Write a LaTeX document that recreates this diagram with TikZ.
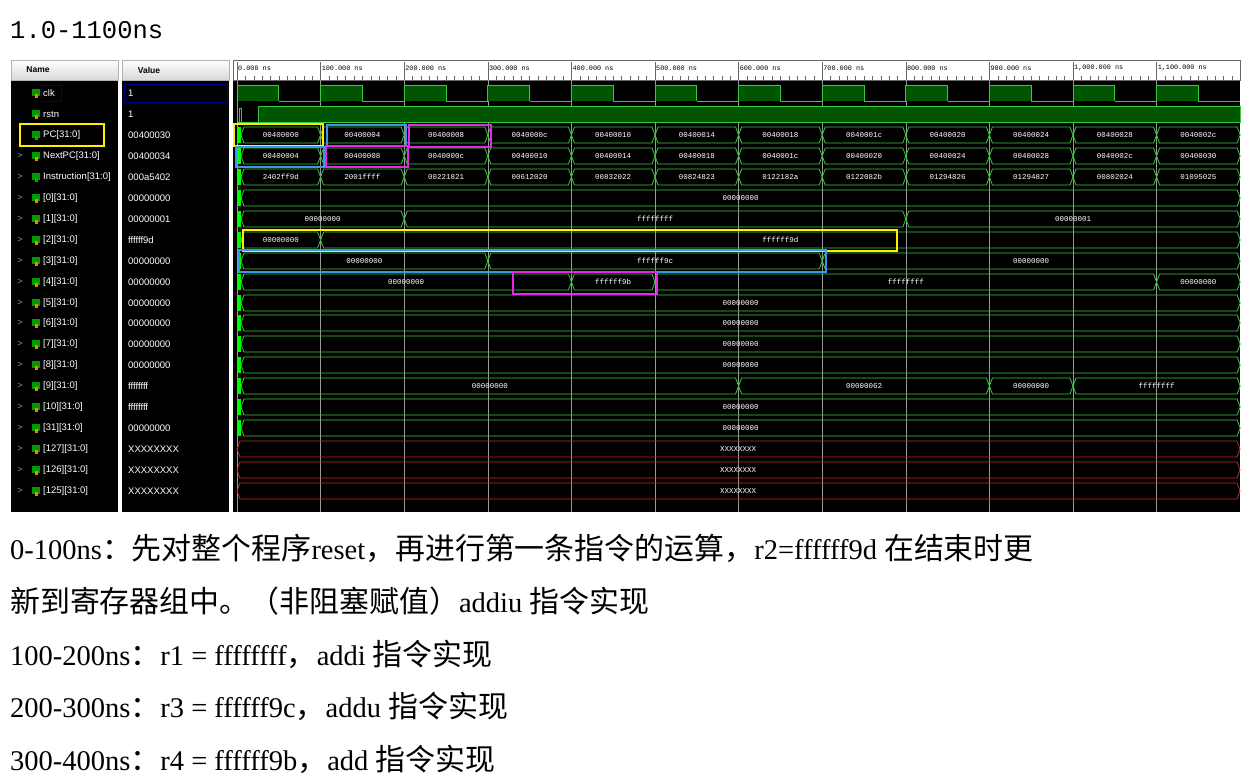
\documentclass[tikz,border=0pt]{standalone}
\usepackage{fontspec}
\setmainfont{Liberation Serif}
\newfontfamily\cjk[Scale=1.05]{Noto Sans CJK SC}
\newfontfamily\wmono{Liberation Mono}
\newfontfamily\wsans{Liberation Sans}
\definecolor{wgreen}{RGB}{60,200,60}
\definecolor{wdark}{RGB}{0,85,0}
\definecolor{wbright}{RGB}{0,255,0}
\definecolor{wred}{RGB}{200,40,40}
\definecolor{hlyel}{RGB}{255,240,0}
\definecolor{hlblue}{RGB}{60,150,230}
\definecolor{hlmag}{RGB}{230,40,230}
\newcommand\bseg[5]{%
 \pgfmathsetmacro\ta{#1}\pgfmathsetmacro\tb{#2}%
 \pgfmathsetmacro\xa{237+0.836*\ta}\pgfmathsetmacro\xb{237+0.836*\tb}%
 \ifdim \ta pt<1pt \pgfmathsetmacro\xa{241}\fi
 \draw[#5,line width=0.8pt] (\xa,#3) -- (\xa+3,#3-8) -- (\xb-3,#3-8) -- (\xb,#3) -- (\xb-3,#3+8) -- (\xa+3,#3+8) -- cycle;
 \node[font=\wmono\fontsize{7.5}{7.5}\selectfont,text=white] at ({(\xa+\xb)/2},#3) {#4};}
\newcommand\mk[1]{\fill[wbright] (237,#1-8) rectangle (241,#1+8);}
\begin{document}
\begin{tikzpicture}[x=1pt,y=-1pt,
  nm/.style={font=\wsans\fontsize{9.5}{9.5}\selectfont,text=white,anchor=west,inner sep=0},
  vl/.style={font=\wsans\fontsize{9.5}{9.5}\selectfont,text=white,anchor=west,inner sep=0},
  hl/.style={line width=2.2pt}]
\useasboundingbox (0,0) rectangle (1251,780);
\fill[white] (0,0) rectangle (1251,780);
\node[anchor=west,font=\wmono\fontsize{25.5}{25.5}\selectfont,inner sep=0] (title) at (10,30) {1.0-1100ns};
% panels
\fill[black] (11,80) rectangle (118,512);
\fill[black] (122,80) rectangle (229,512);
\fill[black] (233,80) rectangle (1240,512);
\shade[top color=white,bottom color=black!15] (11,60) rectangle (118,80);
\shade[top color=white,bottom color=black!15] (122,60) rectangle (229,80);
\draw[black!30] (11,60) rectangle (118,80) (122,60) rectangle (229,80);
\node[font=\wsans\bfseries\fontsize{8.5}{8.5}\selectfont] at (38,70) {Name};
\node[font=\wsans\bfseries\fontsize{8.5}{8.5}\selectfont] at (149,70) {Value};
\draw[black!60] (233,60) rectangle (1240,80);
% time axis
\foreach \k/\lab in {0/0.000 ns,1/100.000 ns,2/200.000 ns,3/300.000 ns,4/400.000 ns,5/500.000 ns,6/600.000 ns,7/700.000 ns,8/800.000 ns,9/900.000 ns,10/{1,000.000 ns},11/{1,100.000 ns}}{
  \pgfmathsetmacro\xx{237+83.6*\k}
  \draw[black!60] (\xx,62) -- (\xx,80);
  \node[anchor=west,font=\wmono\fontsize{6.8}{6.8}\selectfont,inner sep=0] at (\xx+1,68) {\lab};
  \foreach \m in {1,...,9}{\draw[black!60] (\xx+8.36*\m,76) -- (\xx+8.36*\m,80);}
  \draw[black!40,line width=0.5pt] (\xx,80) -- (\xx,512);
}
% names and values
\foreach \y/\n/\v/\e/\c in {93/clk/1/0/orange,114/rstn/1/0/orange,135/PC[31:0]/00400030/0/green!70!black,156/NextPC[31:0]/00400034/1/orange,177/Instruction[31:0]/000a5402/1/green!70!black,198/[0][31:0]/00000000/1/orange,219/[1][31:0]/00000001/1/orange,240/[2][31:0]/ffffff9d/1/orange,261/[3][31:0]/00000000/1/orange,282/[4][31:0]/00000000/1/orange,303/[5][31:0]/00000000/1/orange,323/[6][31:0]/00000000/1/orange,344/[7][31:0]/00000000/1/orange,365/[8][31:0]/00000000/1/orange,386/[9][31:0]/ffffffff/1/orange,407/[10][31:0]/ffffffff/1/orange,428/[31][31:0]/00000000/1/orange,449/[127][31:0]/XXXXXXXX/1/orange,470/[126][31:0]/XXXXXXXX/1/orange,491/[125][31:0]/XXXXXXXX/1/orange}{
  \node[nm] at (43,\y) {\n};
  \node[vl] at (128,\y) {\v};
  \fill[green!60!black] (32,\y-4) rectangle (40,\y+3);
  \fill[\c] (35,\y+1) rectangle (38,\y+5);
  \ifnum\e=1 \node[font=\wsans\fontsize{9}{9}\selectfont,text=black!40] at (20,\y) {>};\fi
}
\draw[blue!50!black] (41,85) rectangle (61,101);
\draw[blue!50!black] (124,84) rectangle (227,102);
% clk
\foreach \k in {0,...,11}{
  \pgfmathsetmacro\xa{237+83.6*\k}\pgfmathsetmacro\xb{\xa+41.8}\pgfmathsetmacro\xc{\xa+83.6}
  \filldraw[fill=wdark,draw=wgreen,line width=0.8pt] (\xa,101) -- (\xa,85) -- (\xb,85) -- (\xb,101);
  \draw[wgreen,line width=0.8pt] (\xb,101) -- (\xc,101);
}
% rstn
\draw[wgreen,line width=0.8pt] (237,122) -- (258,122);
\filldraw[fill=wdark,draw=wgreen,line width=0.8pt] (258,122) -- (258,106) -- (1240,106) -- (1240,122) -- cycle;
\draw[wgreen] (239,122)--(239,108)--(241,108)--(241,122);
% buses
\foreach \y in {135,156,177,198,219,240,261,282,303,323,344,365,386,407,428}{\mk{\y}}
\foreach \v [count=\i from 0] in {00400000,00400004,00400008,0040000c,00400010,00400014,00400018,0040001c,00400020,00400024,00400028,0040002c}{
  \bseg{\i*100}{(\i+1)*100}{135}{\v}{wgreen}}
\foreach \v [count=\i from 0] in {00400004,00400008,0040000c,00400010,00400014,00400018,0040001c,00400020,00400024,00400028,0040002c,00400030}{
  \bseg{\i*100}{(\i+1)*100}{156}{\v}{wgreen}}
\foreach \v [count=\i from 0] in {2402ff9d,2001ffff,00221821,00612020,00832022,00824823,0122182a,0122082b,01294826,01294827,00802024,01095025}{
  \bseg{\i*100}{(\i+1)*100}{177}{\v}{wgreen}}
\foreach \y in {198,303,323,344,365,407,428}{\bseg{0}{1200}{\y}{00000000}{wgreen}}
\bseg{0}{200}{219}{00000000}{wgreen}\bseg{200}{800}{219}{ffffffff}{wgreen}\bseg{800}{1200}{219}{00000001}{wgreen}
\bseg{0}{100}{240}{00000000}{wgreen}\bseg{100}{1200}{240}{ffffff9d}{wgreen}
\bseg{0}{300}{261}{00000000}{wgreen}\bseg{300}{700}{261}{ffffff9c}{wgreen}\bseg{700}{1200}{261}{00000000}{wgreen}
\bseg{0}{400}{282}{00000000}{wgreen}\bseg{400}{500}{282}{ffffff9b}{wgreen}\bseg{500}{1100}{282}{ffffffff}{wgreen}\bseg{1100}{1200}{282}{00000000}{wgreen}
\bseg{0}{600}{386}{00000000}{wgreen}\bseg{600}{900}{386}{00000062}{wgreen}\bseg{900}{1000}{386}{00000000}{wgreen}\bseg{1000}{1200}{386}{ffffffff}{wgreen}
\foreach \y in {449,470,491}{
  \draw[wred,line width=0.8pt] (237,\y) -- (240,\y-8) -- (1237,\y-8) -- (1240,\y) -- (1237,\y+8) -- (240,\y+8) -- cycle;
  \node[font=\wmono\fontsize{7.5}{7.5}\selectfont,text=white] at (738,\y) {XXXXXXXX};}
% highlights
\draw[hl,hlyel] (20,124) rectangle (104,146);
\draw[hl,hlyel] (234,124) rectangle (323,146);
\draw[hl,hlyel] (243,230) rectangle (897,251);
\draw[hl,hlblue] (327,125) rectangle (406,146);
\draw[hl,hlblue] (236,147) rectangle (324,167);
\draw[hl,hlblue] (239,250) rectangle (826,272);
\draw[hl,hlmag] (409,125) rectangle (491,147);
\draw[hl,hlmag] (326,146) rectangle (408,167);
\draw[hl,hlmag] (513,272) rectangle (657,294);
% text
\tikzset{tx/.style={anchor=west,inner sep=0,font=\fontsize{28.5}{28.5}\selectfont}}
\node[tx] (l1) at (10,548) {0-100ns{\cjk ：先对整个程序}reset{\cjk ，再进行第一条指令的运算，}r2=ffffff9d {\cjk 在结束时更}};
\node[tx] (l2) at (10,601) {{\cjk 新到寄存器组中。（非阻塞赋值）}addiu {\cjk 指令实现}};
\node[tx] (l3) at (10,654) {100-200ns{\cjk ：}r1 = ffffffff{\cjk ，}addi {\cjk 指令实现}};
\node[tx] (l4) at (10,706) {200-300ns{\cjk ：}r3 = ffffff9c{\cjk ，}addu {\cjk 指令实现}};
\node[tx] (l5) at (10,759) {300-400ns{\cjk ：}r4 = ffffff9b{\cjk ，}add {\cjk 指令实现}};
\end{tikzpicture}
\end{document}
